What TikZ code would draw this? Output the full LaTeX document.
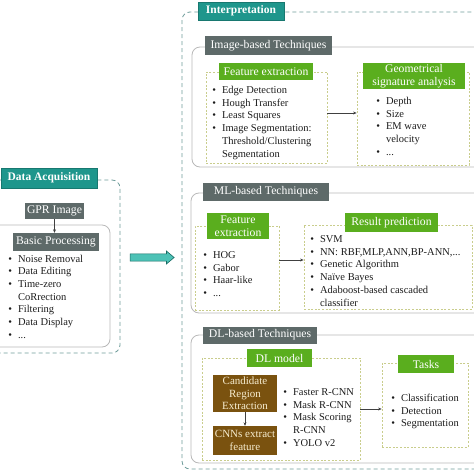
\documentclass[tikz,border=0pt]{standalone}
\usepackage{fontspec}
\setmainfont{Liberation Serif}
\usetikzlibrary{arrows.meta, positioning, shapes.arrows}

\definecolor{acqteal}{HTML}{1E968C}
\definecolor{arrowteal}{HTML}{4DC2B6}
\definecolor{headgray}{HTML}{5E6A69}
\definecolor{headgreen}{HTML}{5AAE1E}
\definecolor{cnnbrown}{HTML}{7A520F}
\definecolor{cnntext}{HTML}{F6ECCF}
\definecolor{dashgreen}{HTML}{C9CD8C}
\definecolor{outerline}{HTML}{6E9C9A}
\definecolor{panelline}{HTML}{B8B8B8}
\definecolor{listtext}{HTML}{1C1C1C}

\tikzset{
  tealhead/.style={fill=acqteal, draw=acqteal!80!black, text=white, inner sep=1pt,
    font=\bfseries\fontsize{11.5}{13}\selectfont},
  grayhead/.style={fill=headgray, text=white, inner sep=1pt, minimum height=18pt,
    font=\fontsize{11.7}{13}\selectfont},
  greenhead/.style={fill=headgreen, text=white, inner sep=1pt, align=center,
    font=\fontsize{11.7}{12.6}\selectfont},
  cnnbox/.style={fill=cnnbrown, text=cnntext, inner sep=1pt, align=center,
    font=\fontsize{11}{12.3}\selectfont},
  panel/.style={draw=panelline, line width=0.8pt, rounded corners=8pt},
  dashbox/.style={draw=dashgreen, line width=0.8pt, dash pattern=on 2pt off 1.6pt, inner sep=0pt},
  outerdash/.style={draw=outerline, line width=0.8pt, dash pattern=on 4pt off 3pt, rounded corners=8pt},
  itemlist/.style={anchor=base west, inner sep=0pt, text=listtext},
  link/.style={-{Stealth[length=3.5pt, width=3pt]}, draw=black!75, line width=0.5pt}
}

\newcommand{\blist}[1]{{\fontsize{10.5}{12.7}\selectfont
  \begin{tabular}[t]{@{}l@{\hspace{6pt}}l@{}}#1\end{tabular}}}

\begin{document}
\begin{tikzpicture}[x=1pt, y=-1pt]
\useasboundingbox (0,0) rectangle (474,474);
\clip (0,0) rectangle (474,474);

% data acquisition
\draw[outerdash] (-10,180) rectangle (120,353);
\draw[panel] (-10,225) rectangle (110,347);
\node[tealhead, minimum width=96pt, minimum height=20pt] (acq) at (49,178) {Data Acquisition};
\node[grayhead, minimum width=59pt, minimum height=16pt] (gpr) at (54.5,211) {GPR Image};
\node[grayhead, minimum width=86pt] (basic) at (56,242) {Basic Processing};
\draw[link] (gpr.south) -- (gpr.south |- basic.north);
\node[itemlist] (basiclist) at (8.2,262) {\blist{%
  \textbullet & Noise Removal\\
  \textbullet & Data Editing\\
  \textbullet & Time-zero\\
              & CoRrection\\
  \textbullet & Filtering\\
  \textbullet & Data Display\\
  \textbullet & ...}};

\node[single arrow, fill=arrowteal, draw=acqteal!70!black, line width=0.6pt,
  minimum height=44pt, inner sep=3.3pt, single arrow head extend=2.8pt,
  single arrow tip angle=80] (bigarrow) at (150,257.5) {};

% interpretation
\draw[outerdash] (182,12) rectangle (495,469);
\node[tealhead, minimum width=86pt, minimum height=18pt] (interp) at (241,11) {Interpretation};

% image-based
\draw[panel] (192,47) rectangle (495,167);
\node[grayhead, minimum width=127pt, minimum height=19pt] (imghead) at (268.5,45.5) {Image-based Techniques};
\node[dashbox, minimum width=121pt, minimum height=91pt] (imgfe) at (266.5,117.5) {};
\node[dashbox, minimum width=112pt, minimum height=93pt] (geo) at (413,118.5) {};
\node[greenhead, minimum width=94pt, minimum height=17pt] (imgfehead) at (266,71.5) {Feature extraction};
\node[greenhead, minimum width=102pt, minimum height=26pt] (geohead) at (414,76) {Geometrical\\signature analysis};
\node[itemlist] (imgfelist) at (212.2,93.5) {\blist{%
  \textbullet & Edge Detection\\
  \textbullet & Hough Transfer\\
  \textbullet & Least Squares\\
  \textbullet & Image Segmentation:\\
              & Threshold/Clustering\\
              & Segmentation}};
\node[itemlist] (geolist) at (376.2,104.5) {\blist{%
  \textbullet & Depth\\
  \textbullet & Size\\
  \textbullet & EM wave\\
              & velocity\\
  \textbullet & ...}};
\draw[link] ([yshift=4.5pt]imgfe.east) -- ([yshift=4.5pt]imgfe.east -| geo.west);

% ml-based
\draw[panel] (191,193) rectangle (495,313);
\node[grayhead, minimum width=126pt] (mlhead) at (266,192) {ML-based Techniques};
\node[dashbox, minimum width=84pt, minimum height=84pt] (mlfe) at (237,268) {};
\node[dashbox, minimum width=168pt, minimum height=84pt] (pred) at (388,267) {};
\node[greenhead, minimum width=62pt, minimum height=26pt] (mlfehead) at (238,226) {Feature\\extraction};
\node[greenhead, minimum width=93pt, minimum height=19pt] (predhead) at (391.5,222.5) {Result prediction};
\node[itemlist] (mlfelist) at (203.2,258.5) {\blist{%
  \textbullet & HOG\\
  \textbullet & Gabor\\
  \textbullet & Haar-like\\
  \textbullet & ...}};
\node[itemlist] (predlist) at (310.2,242.5) {\blist{%
  \textbullet & SVM\\
  \textbullet & NN: RBF,MLP,ANN,BP-ANN,...\\
  \textbullet & Genetic Algorithm\\
  \textbullet & Na\"ive Bayes\\
  \textbullet & Adaboost-based cascaded\\
              & classifier}};
\draw[link] ([yshift=8pt]mlfe.east) -- ([yshift=8pt]mlfe.east -| pred.west);

% dl-based
\draw[panel] (191,335) rectangle (495,463);
\node[grayhead, minimum width=114pt, minimum height=17pt] (dlhead) at (260,335) {DL-based Techniques};
\node[dashbox, minimum width=158pt, minimum height=102pt] (dlmodel) at (281,409) {};
\node[dashbox, minimum width=86pt, minimum height=84pt] (tasks) at (425,405) {};
\node[greenhead, minimum width=65pt, minimum height=18pt] (dlmodelhead) at (279.5,358) {DL model};
\node[greenhead, minimum width=56pt, minimum height=18pt] (taskshead) at (426,364) {Tasks};
\node[cnnbox, minimum width=64pt, minimum height=37pt] (region) at (245,393.5) {Candidate\\Region\\Extraction};
\node[cnnbox, minimum width=64pt, minimum height=29pt] (cnns) at (245,440.5) {CNNs extract\\feature};
\draw[link] (region.south) -- (cnns.north);
\node[itemlist] (dllist) at (283.2,395.5) {\blist{%
  \textbullet & Faster R-CNN\\
  \textbullet & Mask R-CNN\\
  \textbullet & Mask Scoring\\
              & R-CNN\\
  \textbullet & YOLO v2}};
\node[itemlist] (taskslist) at (391.2,401.5) {\blist{%
  \textbullet & Classification\\
  \textbullet & Detection\\
  \textbullet & Segmentation}};
\draw[link] (dlmodel.east) -- (dlmodel.east -| tasks.west);
\end{tikzpicture}
\end{document}
